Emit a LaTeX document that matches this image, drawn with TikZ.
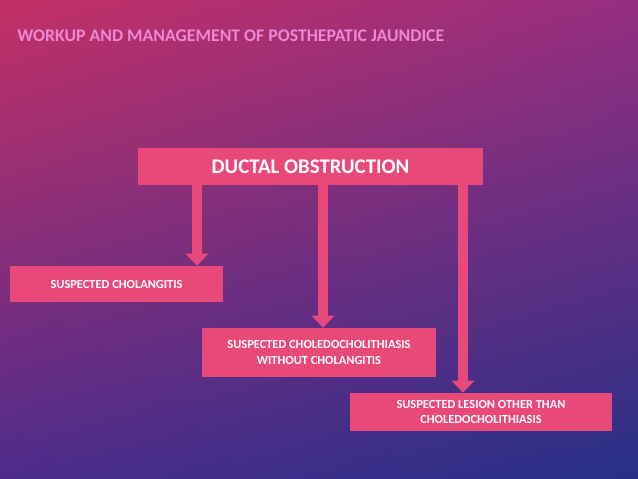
\documentclass[tikz,border=0pt]{standalone}
\usepackage{fontspec}
\setmainfont{Carlito}
\usepackage{tikz}
\usetikzlibrary{arrows.meta,positioning,shadings}
\usepackage{xcolor}
\definecolor{BoxPink}{RGB}{232,72,122}
\definecolor{TitlePink}{RGB}{238,135,212}
\definecolor{BgTL}{RGB}{196,48,102}
\definecolor{BgTR}{RGB}{150,46,128}
\definecolor{BgBL}{RGB}{78,44,140}
\definecolor{BgBR}{RGB}{38,48,135}

\begin{document}
\begin{tikzpicture}[x=0.75pt,y=-0.75pt,
  box/.style={fill=BoxPink,text=white,font=\bfseries\fontsize{9.3}{11.6}\selectfont,
              align=center,inner sep=0pt},
  arr/.style={-{Triangle[width=16.5pt,length=9pt]},line width=7.5pt,draw=BoxPink},
]
% background
\shade[upper left=BgTL,upper right=BgTR,lower left=BgBL,lower right=BgBR]
  (0,0) rectangle (638,478);
\useasboundingbox (0,0) rectangle (638,478);

\node[anchor=west,inner sep=0pt,text=TitlePink,font=\bfseries\fontsize{13.3}{15}\selectfont]
  (title) at (17,36) {WORKUP AND MANAGEMENT OF POSTHEPATIC JAUNDICE};

\node[box,minimum width=258.75pt,minimum height=27.75pt,
      font=\bfseries\fontsize{15.6}{18}\selectfont] (ductal) at (310.5,166.5)
  {DUCTAL OBSTRUCTION};
\node[box,minimum width=159.75pt,minimum height=27pt] (cholang) at (116.5,284)
  {SUSPECTED CHOLANGITIS};
\node[box,minimum width=175.5pt,minimum height=36.75pt] (choledo) at (319,352.5)
  {SUSPECTED CHOLEDOCHOLITHIASIS\\WITHOUT CHOLANGITIS};
\node[box,minimum width=196.5pt,minimum height=28.5pt] (lesion) at (481,412)
  {SUSPECTED LESION OTHER THAN\\CHOLEDOCHOLITHIASIS};

% arrows
\coordinate (a1) at (197,0);
\coordinate (a2) at (323,0);
\coordinate (a3) at (463,0);
\draw[arr] (a1 |- ductal.south) -- (a1 |- cholang.north);
\draw[arr] (a2 |- ductal.south) -- (a2 |- choledo.north);
\draw[arr] (a3 |- ductal.south) -- (a3 |- lesion.north);
\end{tikzpicture}
\end{document}
